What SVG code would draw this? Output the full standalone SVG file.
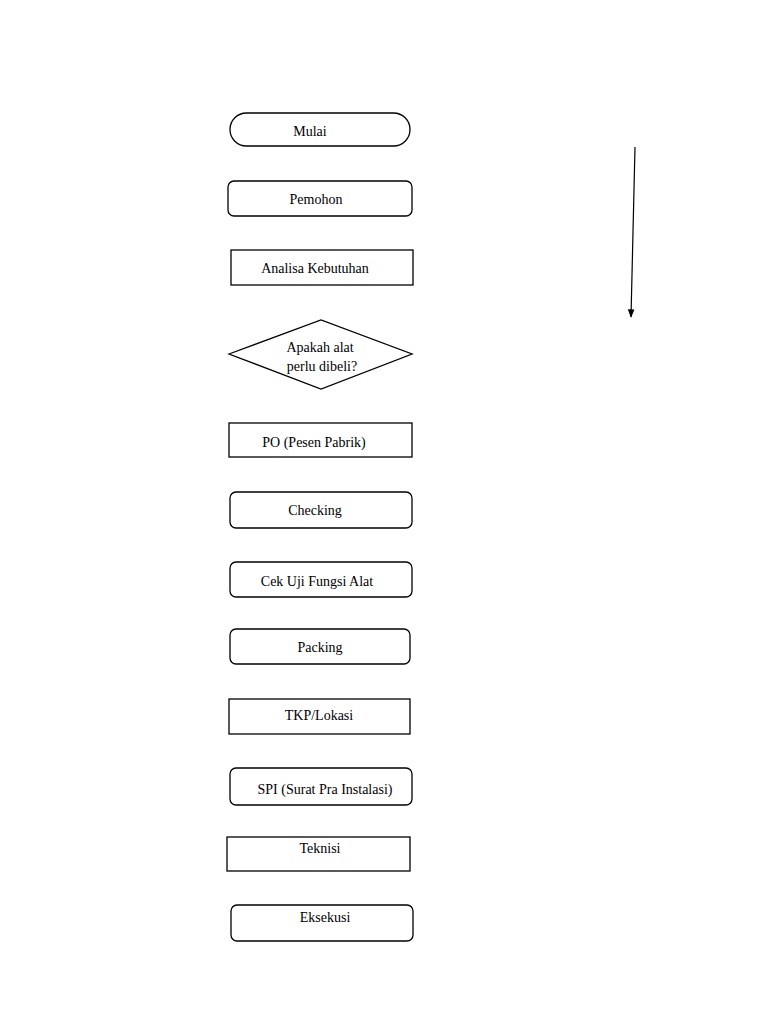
<svg xmlns="http://www.w3.org/2000/svg" width="768" height="1024" viewBox="0 0 768 1024">
<style>
.s{fill:#fff;stroke:#000;stroke-width:1.3}
text{font-family:"Liberation Serif",serif;font-size:14px;text-anchor:middle;fill:#000}
</style>
<defs><marker id="a" viewBox="0 0 10 10" refX="9" refY="5" markerWidth="7" markerHeight="7" orient="auto"><path d="M0,1 L10,5 L0,9 z"/></marker></defs>
<rect width="768" height="1024" fill="#fff"/>
<g id="mulai"><rect class="s" x="230" y="113" width="180" height="33" rx="16.5"/><text x="310" y="136">Mulai</text></g>
<g id="pemohon"><rect class="s" x="228" y="181" width="184" height="35" rx="6"/><text x="316" y="204">Pemohon</text></g>
<g id="analisa"><rect class="s" x="231" y="250" width="182" height="35"/><text x="315" y="273">Analisa Kebutuhan</text></g>
<g id="decision"><polygon class="s" points="229,354 321,320 412,354 321,389"/><text x="320" y="352">Apakah alat</text><text x="322" y="371">perlu dibeli?</text></g>
<g id="po"><rect class="s" x="229" y="423" width="183" height="34"/><text x="314" y="447">PO (Pesen Pabrik)</text></g>
<g id="checking"><rect class="s" x="230" y="492" width="182" height="36" rx="6"/><text x="315" y="515">Checking</text></g>
<g id="cekuji"><rect class="s" x="230" y="562" width="182" height="35" rx="6"/><text x="317" y="586">Cek Uji Fungsi Alat</text></g>
<g id="packing"><rect class="s" x="230" y="629" width="180" height="35" rx="6"/><text x="320" y="652">Packing</text></g>
<g id="tkp"><rect class="s" x="229" y="699" width="181" height="35"/><text x="319" y="720">TKP/Lokasi</text></g>
<g id="spi"><rect class="s" x="230" y="768" width="182" height="37" rx="6"/><text x="325" y="794">SPI (Surat Pra Instalasi)</text></g>
<g id="teknisi"><rect class="s" x="227" y="837" width="183" height="34"/><text x="320" y="853">Teknisi</text></g>
<g id="eksekusi"><rect class="s" x="231" y="905" width="182" height="36" rx="6"/><text x="325" y="922">Eksekusi</text></g>
<g id="connectors"><line x1="635" y1="147" x2="631" y2="317" stroke="#000" stroke-width="1.2" marker-end="url(#a)"/></g>
</svg>
